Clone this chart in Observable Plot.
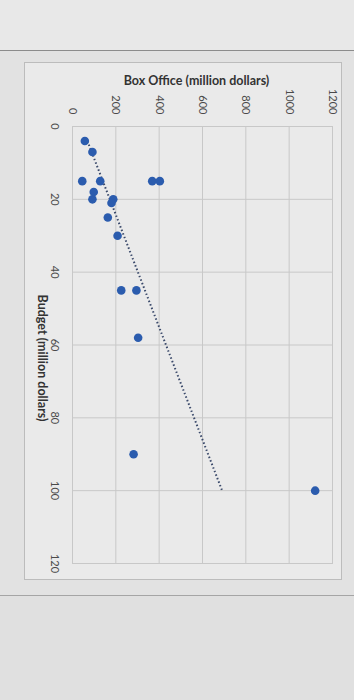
<!DOCTYPE html>
<html><head><meta charset="utf-8">
<script src="https://cdn.jsdelivr.net/npm/d3@7"></script>
<script src="https://cdn.jsdelivr.net/npm/@observablehq/plot@0.6"></script>
<style>
html,body{margin:0;padding:0;width:354px;height:700px;overflow:hidden;background:#e2e2e2;}
#page{position:relative;width:354px;height:700px;}
.strip{position:absolute;left:0;width:354px;}
#top{top:0;height:50px;background:#e8e8e8;border-bottom:1px solid #8c8c8c;}
#bottom{top:595px;height:105px;background:#e0e0e0;border-top:1px solid #a5a5a5;}
#box{position:absolute;left:24px;top:62px;width:316px;height:516px;border:1px solid #bcbcbc;background:#eaeaea;}
#chart{position:absolute;left:0;top:0;}
</style></head><body>
<div id="page"><div id="top" class="strip"></div><div id="bottom" class="strip"></div><div id="box"></div><div id="chart"></div></div>
<script>
const budget    = [4, 7, 15, 15, 15, 15, 18, 20, 20, 21, 25, 30, 45, 45, 58, 90, 100];
const boxOffice = [57, 92, 45, 128, 368, 403, 98, 92, 188, 180, 163, 208, 225, 295, 303, 282, 1120];
const budgetTicks = [0, 20, 40, 60, 80, 100, 120];
const boxOfficeTicks = [0, 200, 400, 600, 800, 1000, 1200];
const xTitle = "Box Office (million dollars)";
const yTitle = "Budget (million dollars)";

const films = budget.map((b, i) => ({budget: b, boxOffice: boxOffice[i]}));
const grid = "#c8c8c8";
const chart = Plot.plot({
  width: 354, height: 700,
  marginLeft: 72, marginRight: 22, marginTop: 126, marginBottom: 137,
  style: {background: "transparent", fontFamily: "Lato, 'Open Sans', sans-serif", fontSize: "11px", color: "#4a4a4a"},
  x: {domain: [0, 1200]},
  y: {domain: [0, 120], reverse: true},
  marks: [
    Plot.gridX(boxOfficeTicks, {stroke: grid, strokeOpacity: 1}),
    Plot.gridY(budgetTicks, {stroke: grid, strokeOpacity: 1}),
    Plot.frame({stroke: grid}),
    Plot.axisX(boxOfficeTicks, {anchor: "top", tickSize: 0, tickRotate: 90, tickPadding: 12, label: null, tickFormat: d => String(d)}),
    Plot.axisY(budgetTicks, {anchor: "left", tickSize: 0, tickRotate: 90, tickPadding: 14, label: null, tickFormat: d => String(d)}),
    Plot.linearRegressionX(films, {x: "boxOffice", y: "budget", ci: 0, stroke: "#3b4a6b", strokeWidth: 2, strokeDasharray: "1.5,2.3", strokeLinecap: "butt"}),
    Plot.dot(films, {x: "boxOffice", y: "budget", r: 4.3, fill: "#2b5cae"}),
    Plot.text([xTitle], {frameAnchor: "top", dx: -6, dy: -50, fontWeight: "bold", fontSize: 12.5, fill: "#333"}),
    Plot.text([yTitle], {frameAnchor: "left", dx: -31, dy: 13, rotate: 90, textAnchor: "middle", fontWeight: "bold", fontSize: 12.5, fill: "#333"})
  ]
});
document.getElementById("chart").appendChild(chart);
</script>
</body></html>
